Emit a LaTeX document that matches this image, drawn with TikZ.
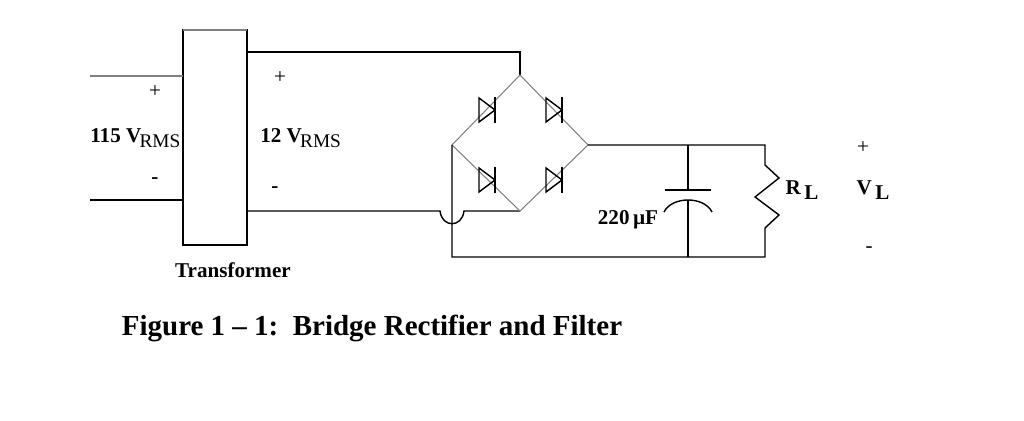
\documentclass[tikz,border=0pt]{standalone}
\usepackage{fontspec}
\setmainfont{Liberation Serif}
\usetikzlibrary{positioning}
\tikzset{
  wire/.style={black, line width=0.8pt},
  lbl/.style={inner sep=0pt, font=\bfseries\fontsize{12}{14}\selectfont},
  pm/.style={inner sep=0pt, font=\fontsize{12}{14}\selectfont},
  pics/diode/.style={code={
    \draw[wire] (-8,-12) -- (-8,12) -- (8,0) -- cycle;
    \draw[wire] (8,-13) -- (8,13);
  }}
}
\newcommand{\rmssub}{\raisebox{-0.5ex}{\mdseries\fontsize{11}{13}\selectfont RMS}}
\begin{document}
\begin{tikzpicture}[x=0.02cm,y=-0.02cm]
\useasboundingbox (0,0) rectangle (1024,421);
% transformer
\draw[wire] (183,30) rectangle (247,245);
\draw[gray, line width=1.5pt] (183,30) -- (247,30);
\coordinate (p1) at (90,76);
\coordinate (p2) at (90,200);
\draw[wire, gray] (p1) -- (183,76);
\draw[wire] (p2) -- (183,200);
\node[pm] (pp) at (155,92) {+};
\node[lbl, anchor=west] (vin) at (90,138) {115 V\kern-1pt\rmssub};
\node[lbl] (pn) at (155,181) {-};
\node[lbl] (tr) at (233,270) {Transformer};
% secondary
\node[pm] (sp) at (280,78) {+};
\node[lbl, anchor=west] (vs) at (260,138) {12 V\kern-1pt\rmssub};
\node[lbl] (sn) at (275,190) {-};
% bridge
\coordinate (bt) at (520,75);
\coordinate (bl) at (452,145);
\coordinate (br) at (588,145);
\coordinate (bb) at (520,211);
\draw[wire] (247,52) -- (520,52) -- (bt);
\draw[wire] (247,211) -- (440,211) .. controls (442,228) and (462,228) .. (464,211) -- (bb);
\draw[gray, line width=0.6pt] (bt) -- (bl) -- (bb) -- (br) -- cycle;
\pic at (487,110) {diode};
\pic at (487,180) {diode};
\pic at (554,110) {diode};
\pic at (554,180) {diode};
% output
\coordinate (cp) at (688,145);
\coordinate (cn) at (688,257);
\coordinate (rp) at (765,145);
\coordinate (rn) at (765,257);
\draw[wire] (br) -- (rp) -- (765,165) -- (779,178) -- (755,197) -- (779,215)
  -- (765,228) -- (rn) -- (452,257) -- (bl);
\draw[wire] (cp) -- (688,190);
\draw[wire] (665,190) -- (711,190);
\draw[wire] (664,212) .. controls (672,196) and (704,196) .. (712,212);
\draw[wire] (688,200) -- (cn);
\node[lbl] (cap) at (628,220) {220\,µF};
\node[lbl] (rl) at (802,190) {R\raisebox{-0.5ex}{\,L}};
\node[pm] (vp) at (863,148) {+};
\node[lbl] (vl) at (873,190) {V\raisebox{-0.5ex}{\,L}};
\node[pm] (vn) at (869,250) {-};
% caption
\node[inner sep=0pt, font=\bfseries\fontsize{16.5}{19}\selectfont] (cap1) at (372,328)
  {Figure 1 -- 1:\ \ Bridge Rectifier and Filter};
\end{tikzpicture}
\end{document}
